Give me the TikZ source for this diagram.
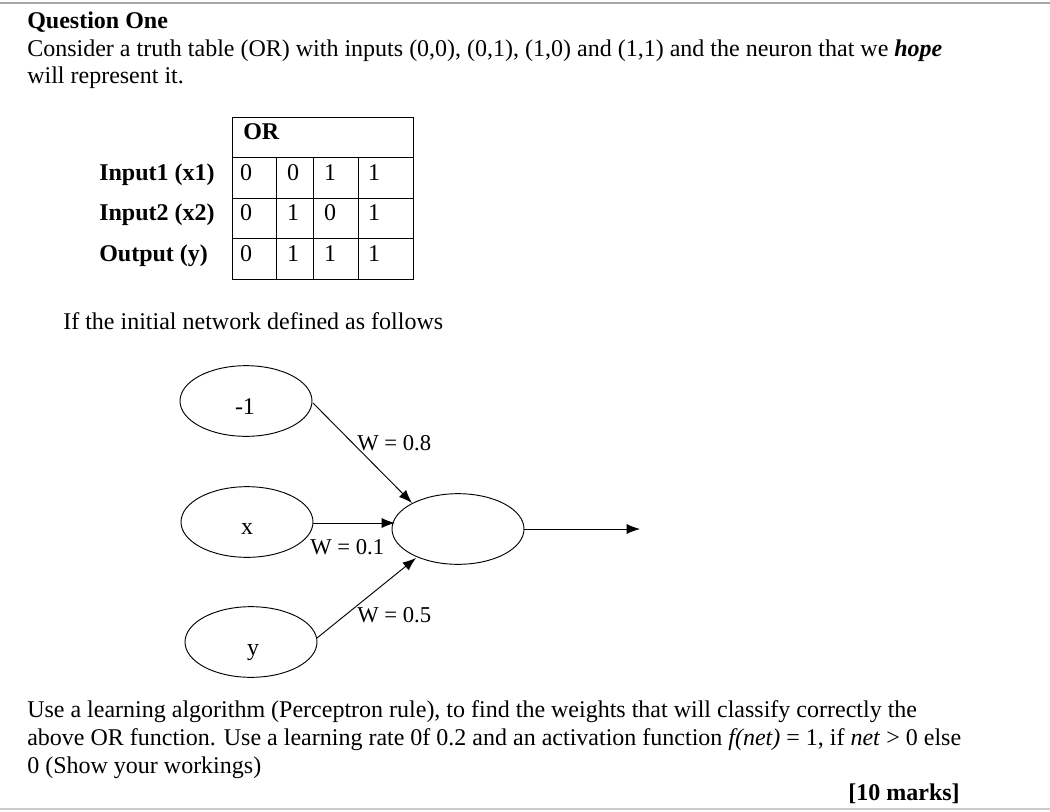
\documentclass[tikz,border=0pt]{standalone}
\usepackage{fontspec}
\setmainfont{Liberation Serif}
\usetikzlibrary{shapes.geometric,arrows.meta}
\begin{document}
\begin{tikzpicture}[x=0.75pt,y=-0.75pt,
  txt/.style={anchor=base west,inner sep=0pt,font=\fontsize{18}{22}\selectfont},
  cell/.style={anchor=base,inner sep=0pt,font=\fontsize{18}{22}\selectfont},
  neuron/.style={draw,ellipse,minimum width=99pt,minimum height=53pt,inner sep=0pt,line width=0.7pt},
  wl/.style={anchor=base west,inner sep=0pt,font=\fontsize{17}{20}\selectfont},
  conn/.style={-{Latex[length=10pt,width=7.5pt]},line width=0.7pt}]
\useasboundingbox (0,0) rectangle (1050,811);
\draw[gray!70,line width=1.5pt] (0,3) -- (1050,3);
\draw[gray!40,line width=1pt] (0,809) -- (1050,809);
\node[txt,font=\fontsize{18}{22}\selectfont\bfseries] (q) at (27,28) {Question One};
\node[txt] (l1) at (27,56) {Consider a truth table (OR) with inputs (0,0), (0,1), (1,0) and (1,1) and the neuron that we \textbf{\textit{hope}}};
\node[txt] (l2) at (27,83) {will represent it.};
% table
\draw[line width=0.7pt] (232,117) rectangle (413,279);
\foreach \yy in {157,198,238} \draw[line width=0.7pt] (232,\yy) -- (413,\yy);
\foreach \xx in {276,313,358} \draw[line width=0.7pt] (\xx,157) -- (\xx,279);
\node[txt,font=\fontsize{18}{22}\selectfont\bfseries] (or) at (243,139) {OR};
\node[txt,font=\fontsize{18}{22}\selectfont\bfseries] (r1) at (99,180) {Input1 (x1)};
\node[txt,font=\fontsize{18}{22}\selectfont\bfseries] (r2) at (99,220) {Input2 (x2)};
\node[txt,font=\fontsize{18}{22}\selectfont\bfseries] (r3) at (99,261) {Output (y)};
\foreach \a/\b/\c/\d/\yy [count=\i] in {0/0/1/1/180,0/1/0/1/220,0/1/1/1/261}{
  \node[cell] (c\i a) at (246,\yy) {\a};
  \node[cell] (c\i b) at (293,\yy) {\b};
  \node[cell] (c\i c) at (330,\yy) {\c};
  \node[cell] (c\i d) at (374,\yy) {\d};
}
\node[txt] (ifl) at (63,329) {If the initial network defined as follows};
% network
\node[neuron] (b) at (246,401) {};
\node[neuron] (nx) at (247,522) {};
\node[neuron] (ny) at (251,642) {};
\node[neuron] (o) at (458,529) {};
\node[cell] (bl) at (245,414) {-1};
\node[cell] (xl) at (247,534) {x};
\node[cell] (yl) at (253,655) {y};
\coordinate (out) at (640,529);
\draw[conn] (313,403) -- (412,503);
\draw[conn] (313,523) -- (395,523);
\draw[conn] (317,638) -- (416,558);
\draw[conn] (o.east) -- (out);
\node[wl] (w1) at (357,450) {W = 0.8};
\node[wl] (w2) at (310,554) {W = 0.1};
\node[wl] (w3) at (357,622) {W = 0.5};
\node[txt] (p1) at (27,717) {Use a learning algorithm (Perceptron rule), to find the weights that will classify correctly the};
\node[txt] (p2) at (27,745) {above OR function. Use a learning rate 0f 0.2 and an activation function \textit{f(net)} = 1, if \textit{net} > 0 else};
\node[txt] (p3) at (27,773) {0 (Show your workings)};
\node[txt,anchor=base east,font=\fontsize{18}{22}\selectfont\bfseries] (mk) at (960,800) {[10 marks]};
\end{tikzpicture}
\end{document}
